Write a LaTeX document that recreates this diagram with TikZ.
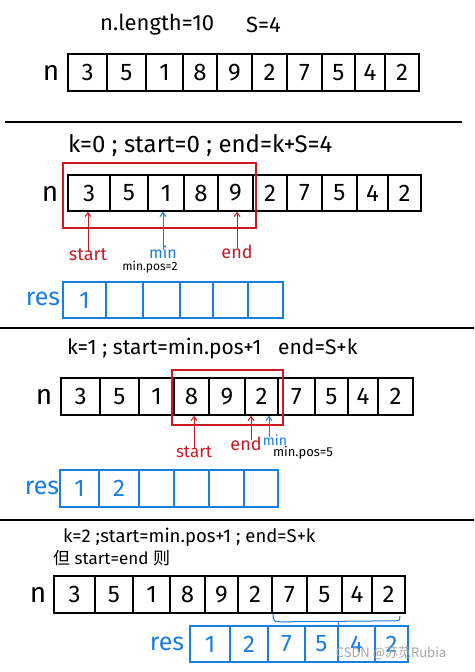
\documentclass[tikz,border=0pt]{standalone}
\usepackage{fontspec}
\setmainfont{Fira Sans}
\newfontfamily\cjk{Noto Sans CJK SC}
\usetikzlibrary{arrows.meta}
\definecolor{hred}{RGB}{205,25,35}
\definecolor{hblue}{RGB}{25,125,230}
\definecolor{wmgray}{RGB}{165,165,165}
\begin{document}
\begin{tikzpicture}[x=1pt,y=-1pt,
  cell/.style={draw, line width=1.6pt, inner sep=0pt, font=\fontsize{24}{24}\selectfont},
  rcell/.style={cell, draw=hblue, text=hblue, line width=1.8pt},
  lbl/.style={inner sep=0pt, font=\fontsize{28}{28}\selectfont},
  reslbl/.style={inner sep=0pt, text=hblue, font=\fontsize{25}{25}\selectfont},
  ttl/.style={inner sep=0pt, anchor=west},
  rarr/.style={draw=hred, line width=1pt, -{Straight Barb[length=4pt,width=6pt]}},
  barr/.style={draw=hblue, line width=1pt, -{Straight Barb[length=4pt,width=6pt]}},
  sep/.style={line width=2.4pt}]
\useasboundingbox (0,0) rectangle (474,672);
\fill[white] (0,0) rectangle (474,672);

% ---------- section 1 ----------
\node[ttl, font=\fontsize{22}{22}\selectfont] (t1a) at (100,25) {n.length=10};
\node[ttl, font=\fontsize{22}{22}\selectfont] (t1b) at (246,25) {S=4};
\node[lbl] (n1) at (51,73) {n};
\foreach \l/\r/\v [count=\i] in {68/107/3,107/146/5,146/183/1,183/217/8,217/252/9,252/287/2,287/322/7,322/355/5,355/385/4,385/419/2}
  \node[cell, minimum width={(\r-\l)*1pt}, minimum height=37pt] (a\i) at ({(\l+\r)/2},72.5) {\v};
\coordinate (s1l) at (5,122); \coordinate (s1r) at (462,122);
\draw[sep] (s1l) -- (s1r);

% ---------- section 2 ----------
\node[ttl, font=\fontsize{24}{24}\selectfont] (t2) at (68,145) {k=0 ; start=0 ; end=k+S=4};
\node[lbl] (n2) at (50,194) {n};
\foreach \l/\r/\v [count=\i] in {68/110/3,110/148/5,148/184/1,184/218/8,218/253/9,253/287/2,287/322/7,322/357/5,357/388/4,388/421/2}
  \node[cell, minimum width={(\r-\l)*1pt}, minimum height=36pt] (b\i) at ({(\l+\r)/2},193) {\v};
\node[draw=hred, line width=1.8pt, inner sep=0pt, minimum width=193pt, minimum height=65pt] (rb2) at (159.5,195.5) {};
\node[inner sep=0pt, text=hred, font=\fontsize{18}{18}\selectfont] (st2) at (88,255) {start};
\node[inner sep=0pt, text=hblue, font=\fontsize{16}{16}\selectfont] (mn2) at (163,252) {min};
\node[inner sep=0pt, font=\fontsize{12}{12}\selectfont] (mp2) at (150,267) {min.pos=2};
\node[inner sep=0pt, text=hred, font=\fontsize{18}{18}\selectfont] (en2) at (237,252) {end};
\draw[rarr] ([yshift=-3pt]st2.north) -- (st2.north |- b1.south);
\draw[barr] ([yshift=-4pt]mn2.north) -- (mn2.north |- b3.south);
\draw[rarr] ([yshift=-3pt]en2.north) -- (en2.north |- b5.south);
\node[reslbl] (r2) at (43,299) {res};
\foreach \l/\r/\v [count=\i] in {63/106/1,106/143/,143/180/,180/213/,213/248/,248/283/}
  \node[rcell, minimum width={(\r-\l)*1pt}, minimum height=36pt] (p\i) at ({(\l+\r)/2},300) {\v};
\coordinate (s2l) at (0,328); \coordinate (s2r) at (474,328);
\draw[sep] (s2l) -- (s2r);

% ---------- section 3 ----------
\node[ttl, font=\fontsize{21}{21}\selectfont] (t3) at (67,349) {k=1 ; start=min.pos+1 \ \ end=S+k};
\node[lbl] (n3) at (44,397) {n};
\foreach \l/\r/\v [count=\i] in {61/100/3,100/139/5,139/174/1,174/209/8,209/245/9,245/278/2,278/315/7,315/348/5,348/378/4,378/413/2}
  \node[cell, minimum width={(\r-\l)*1pt}, minimum height=37pt] (c\i) at ({(\l+\r)/2},396.5) {\v};
\node[draw=hred, line width=1.3pt, inner sep=0pt, minimum width=111pt, minimum height=55pt] (rb3) at (227.5,397.5) {};
\node[inner sep=0pt, text=hred, font=\fontsize{17}{17}\selectfont] (st3) at (194,452) {start};
\node[inner sep=0pt, text=hred, font=\fontsize{18}{18}\selectfont] (en3) at (246,444) {end};
\node[inner sep=0pt, text=hblue, font=\fontsize{14}{14}\selectfont] (mn3) at (275,440) {min};
\node[inner sep=0pt, font=\fontsize{13}{13}\selectfont] (mp3) at (303,453) {min.pos=5};
\draw[rarr] ([yshift=-3pt]st3.north) -- (st3.north |- c4.south);
\draw[rarr] ([xshift=5pt,yshift=-3pt]en3.north) -- ([xshift=5pt]en3.north |- c6.south);
\draw[barr] ([xshift=-6pt,yshift=-3pt]mn3.north) -- ([xshift=-6pt]mn3.north |- c6.south);
\node[reslbl] (r3) at (42,488) {res};
\foreach \l/\r/\v [count=\i] in {60/99/1,99/139/2,139/174/,174/209/,209/244/,244/278/}
  \node[rcell, minimum width={(\r-\l)*1pt}, minimum height=37pt] (q\i) at ({(\l+\r)/2},488.5) {\v};
\coordinate (s3l) at (0,520); \coordinate (s3r) at (474,520);
\draw[sep] (s3l) -- (s3r);

% ---------- section 4 ----------
\node[ttl, font=\fontsize{18.5}{18.5}\selectfont] (t4a) at (63,537) {k=2 ;start=min.pos+1 ; end=S+k};
\node[ttl, font=\fontsize{17}{17}\selectfont] (t4b) at (53,558) {{\cjk 但} start=end {\cjk 则}};
\node[lbl] (n4) at (38,595) {n};
\foreach \l/\r/\v [count=\i] in {54/95/3,95/133/5,133/170/1,170/205/8,205/238/9,238/272/2,272/307/7,307/342/5,342/372/4,372/405/2}
  \node[cell, minimum width={(\r-\l)*1pt}, minimum height=37pt] (d\i) at ({(\l+\r)/2},594.5) {\v};
\node[reslbl] (r4) at (167,644) {res};
\foreach \l/\r/\v [count=\i] in {190/230/1,230/268/2,268/305/7,305/338/5,338/375/4,375/408/2}
  \node[rcell, minimum width={(\r-\l)*1pt}, minimum height=36pt] (e\i) at ({(\l+\r)/2},644) {\v};
\coordinate (brm) at (338,621);
\draw[hblue, line width=1pt] ([xshift=2pt]d7.south west) .. controls ([xshift=2pt,yshift=-8pt]d7.south west) .. ([xshift=14pt,yshift=-8pt]d7.south west)
  -- ([xshift=-12pt,yshift=-7pt]d10.south east) .. controls ([xshift=-6pt,yshift=-7pt]d10.south east) .. ([xshift=-6pt,yshift=-2pt]d10.south east);
\draw[hblue, line width=1pt] (brm) -- (e4.north east);
\node[inner sep=0pt, text=wmgray, font=\cjk\fontsize{13}{13}\selectfont] (wm) at (391,653) {CSDN @苏苋Rubia};
\end{tikzpicture}
\end{document}
